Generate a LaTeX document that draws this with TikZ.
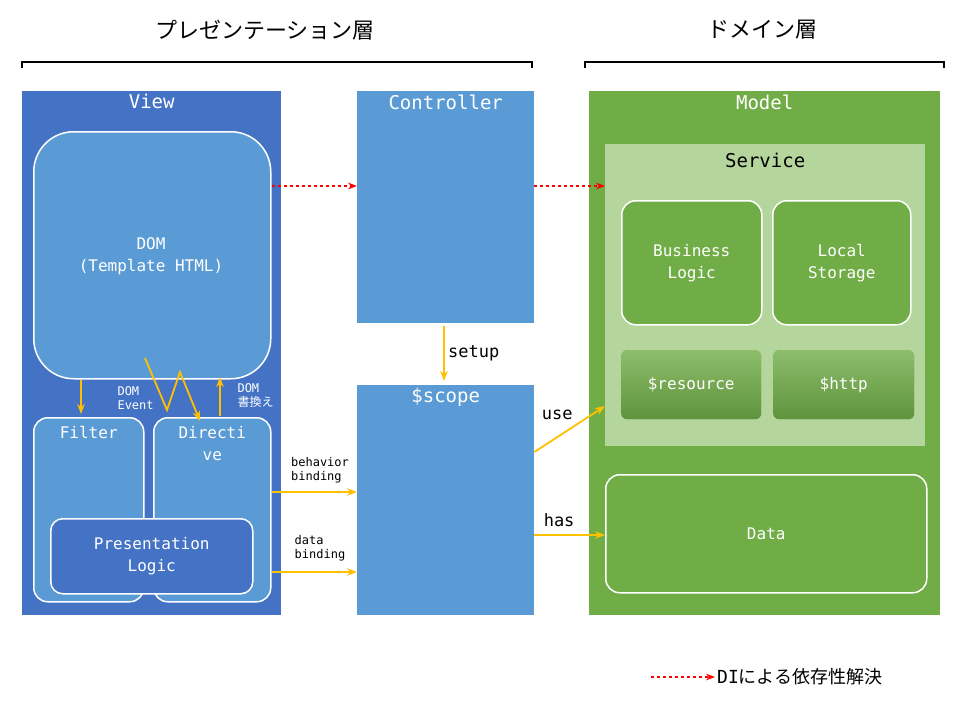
\documentclass[tikz,border=0pt]{standalone}
\usepackage{fontspec}
\setmainfont{DejaVu Sans Mono}
\newfontfamily\jpfont{Noto Sans CJK JP}
\usetikzlibrary{positioning,arrows.meta}
\definecolor{viewblue}{HTML}{4472C4}
\definecolor{lightblue}{HTML}{5B9BD5}
\definecolor{modelgreen}{HTML}{70AD47}
\definecolor{servgreen}{HTML}{B4D59C}
\definecolor{arrorange}{HTML}{FFC000}
\tikzset{
  x=1pt, y=-1pt,
  area/.style={draw=none, fill=#1, anchor=north west, inner sep=0pt},
  box/.style={draw=white, line width=1.5pt, fill=#1, rounded corners=14pt, anchor=north west, inner sep=0pt},
  ttl/.style={text=white, font=\fontsize{19}{21}\selectfont, anchor=north},
  lbl/.style={text=white, font=\fontsize{16}{22}\selectfont, align=center},
  small/.style={font=\fontsize{12}{14}\selectfont, align=left},
  dep/.style={red, dashed, line width=1.5pt, -{Stealth[length=9pt]}},
  flow/.style={arrorange, line width=1.8pt, -{Stealth[length=10pt]}},
}
\begin{document}
\begin{tikzpicture}
  \useasboundingbox (0,0) rectangle (960,720);
  % layer brackets
  \draw[line width=1.2pt] (22,68) -- (22,62) -- (532,62) -- (532,68);
  \draw[line width=1.2pt] (585,68) -- (585,62) -- (944,62) -- (944,68);
  \node[font=\jpfont\fontsize{22}{24}\selectfont] (pres) at (265,30) {プレゼンテーション層};
  \node[font=\jpfont\fontsize{22}{24}\selectfont] (dom) at (762,30) {ドメイン層};

  % View
  \node[area=viewblue, minimum width=259, minimum height=524] (view) at (22,91) {};
  \node[ttl] at (view.north) {View};
  \node[box=lightblue, rounded corners=40pt, minimum width=237, minimum height=247] (domhtml) at (33,131) {};
  \node[lbl] at (151,256) {DOM\\(Template HTML)};
  \node[box=lightblue, minimum width=110, minimum height=184] (filter) at (33,417) {};
  \node[lbl, anchor=north] at ([yshift=-6pt]filter.north) {Filter};
  \node[box=lightblue, minimum width=117, minimum height=184] (direc) at (153,417) {};
  \node[lbl, anchor=north] at ([yshift=-6pt]direc.north) {Directi\\ve};
  \node[box=viewblue, rounded corners=12pt, minimum width=202, minimum height=75] (plogic) at (50,518) {};
  \node[lbl] at (plogic.center) {Presentation\\Logic};
  \node[small, text=white, anchor=west] (evt) at (114,398) {DOM\\Event};
  \node[small, text=white, anchor=west] (rw) at (234,396) {DOM\\{\jpfont 書換え}};
  \draw[flow] (81,380) -- (81,414);
  \draw[flow] (220,416) -- (220,377);
  \draw[flow] (145,358) -- (167,410) -- (180,372) -- (200,421);

  % Controller and scope
  \node[area=lightblue, minimum width=177, minimum height=232] (ctrl) at (357,91) {};
  \node[ttl] at (ctrl.north) {Controller};
  \node[area=lightblue, minimum width=177, minimum height=230] (scope) at (357,385) {};
  \node[ttl] at (scope.north) {\$scope};

  % Model
  \node[area=modelgreen, minimum width=351, minimum height=524] (model) at (589,91) {};
  \node[ttl] at (model.north) {Model};
  \node[area=servgreen, minimum width=320, minimum height=302] (serv) at (605,144) {};
  \node[ttl, text=black] at ([yshift=-6pt]serv.north) {Service};
  \node[box=modelgreen, minimum width=140, minimum height=124] (blogic) at (621,200) {};
  \node[lbl] at (blogic.center) {Business\\Logic};
  \node[box=modelgreen, minimum width=138, minimum height=124] (lstore) at (772,200) {};
  \node[lbl] at (lstore.center) {Local\\Storage};
  \node[area=modelgreen, rounded corners=6pt, top color=modelgreen!80!white, bottom color=modelgreen!85!black, minimum width=140, minimum height=69] (res) at (621,350) {};
  \node[lbl] at (res.center) {\$resource};
  \node[area=modelgreen, rounded corners=6pt, top color=modelgreen!80!white, bottom color=modelgreen!85!black, minimum width=141, minimum height=69] (http) at (773,350) {};
  \node[lbl] at (http.center) {\$http};
  \node[box=modelgreen, minimum width=321, minimum height=118] (data) at (605,474) {};
  \node[lbl] at (data.center) {Data};

  % dependencies and flows
  \draw[dep] (domhtml.east |- 0,186) -- (ctrl.west |- 0,186);
  \draw[dep] (ctrl.east |- 0,186) -- (serv.west |- 0,186);
  \draw[flow] (444,326) -- node[right, text=black, font=\fontsize{17}{19}\selectfont]{setup} (444,381);
  \draw[flow] (scope.east |- 0,452) -- node[above left, text=black, font=\fontsize{17}{19}\selectfont, pos=0.6]{use} (serv.west |- 0,406);
  \draw[flow] (scope.east |- 0,535) -- node[above, text=black, font=\fontsize{17}{19}\selectfont, pos=0.35, yshift=4pt]{has} (data.west |- 0,535);
  \draw[flow] (direc.east |- 0,492) -- (scope.west |- 0,492);
  \node[small] at (320,470) {behavior\\binding};
  \draw[flow] (direc.east |- 0,572) -- (scope.west |- 0,572);
  \node[small] at (320,548) {data\\binding};

  % legend
  \coordinate (lega) at (651,677);
  \coordinate (legb) at (715,677);
  \draw[dep] (lega) -- (legb);
  \node[anchor=west, font=\fontsize{18}{20}\selectfont, inner sep=2pt] at (legb) {DI{\jpfont による依存性解決}};
\end{tikzpicture}
\end{document}
